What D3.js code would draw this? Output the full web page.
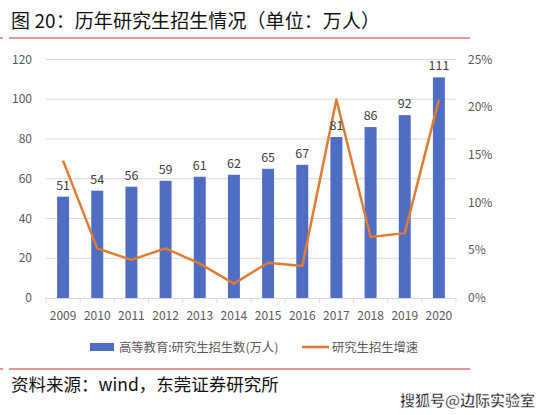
<!DOCTYPE html>
<html>
<head>
<meta charset="utf-8">
<script src="https://cdn.jsdelivr.net/npm/d3@7"></script>
<style>
  body { margin: 0; background: #fff; }
  svg { display: block; font-family: "Noto Sans CJK SC", "Noto Sans", sans-serif; }
</style>
</head>
<body>
<svg id="chart" width="554" height="415"></svg>
<script>
// data
const years = ['2009','2010','2011','2012','2013','2014','2015','2016','2017','2018','2019','2020'];
const enrolment = [51, 54, 56, 59, 61, 62, 65, 67, 81, 86, 92, 111];          // 万人
const growth = [14.4, 5.2, 4.0, 5.2, 3.6, 1.5, 3.7, 3.35, 20.8, 6.4, 6.8, 20.8]; // %
const leftTicks = [0, 20, 40, 60, 80, 100, 120];
const rightTicks = [0, 5, 10, 15, 20, 25];
const barName = '高等教育:研究生招生数(万人)';
const lineName = '研究生招生增速';

const svg = d3.select('#chart');
const plot = {left: 46, right: 456, top: 59.5, bottom: 298};

// header and footer
svg.append('text').attr('x', 11).attr('y', 28)
    .attr('font-size', 19).attr('fill', '#111')
    .attr('textLength', 369).attr('lengthAdjust', 'spacing')
    .text('图 20：历年研究生招生情况（单位：万人）');
svg.append('line').attr('x1', 9).attr('x2', 470).attr('y1', 38).attr('y2', 38)
    .attr('stroke', '#d87470').attr('stroke-width', 1.5);
svg.append('line').attr('x1', 0).attr('x2', 3).attr('y1', 38).attr('y2', 38)
    .attr('stroke', '#d87470').attr('stroke-width', 1.5);
svg.append('line').attr('x1', 9).attr('x2', 470).attr('y1', 369).attr('y2', 369)
    .attr('stroke', '#d87470').attr('stroke-width', 1.5);
svg.append('line').attr('x1', 0).attr('x2', 3).attr('y1', 369).attr('y2', 369)
    .attr('stroke', '#d87470').attr('stroke-width', 1.5);
svg.append('text').attr('x', 11).attr('y', 391)
    .attr('font-size', 17.5).attr('fill', '#111')
    .text('资料来源：wind，东莞证券研究所');
svg.append('text').attr('x', 400).attr('y', 406)
    .attr('font-size', 15).attr('fill', '#222')
    .attr('stroke', '#fff').attr('stroke-width', 0.5).attr('font-weight', 'bold')
    .text('搜狐号@边际实验室');

// scales
const x = d3.scaleBand().domain(years).range([plot.left, plot.right]).paddingInner(0.65).paddingOuter(0.325);
const xb = d3.scaleBand().domain(years).range([plot.left, plot.right]);
const yL = d3.scaleLinear().domain([0, 120]).range([plot.bottom, plot.top]);
const yR = d3.scaleLinear().domain([0, 25]).range([plot.bottom, plot.top]);

// grid
svg.append('g').selectAll('line').data(leftTicks.slice(1)).join('line')
    .attr('x1', plot.left).attr('x2', plot.right)
    .attr('y1', d => yL(d)).attr('y2', d => yL(d))
    .attr('stroke', '#d9d9d9').attr('stroke-width', 1);

// left axis labels
svg.append('g').selectAll('text').data(leftTicks).join('text')
    .attr('x', 32).attr('y', d => yL(d) + 4)
    .attr('text-anchor', 'end').attr('font-size', 12).attr('fill', '#595959')
    .text(d => d);

// right axis labels
svg.append('g').selectAll('text').data(rightTicks).join('text')
    .attr('x', 468).attr('y', d => yR(d) + 4)
    .attr('font-size', 12).attr('fill', '#595959')
    .text(d => d + '%');

// bars
svg.append('g').selectAll('rect').data(years).join('rect')
    .attr('x', d => x(d)).attr('width', x.bandwidth())
    .attr('y', (d, i) => yL(enrolment[i]))
    .attr('height', (d, i) => yL(0) - yL(enrolment[i]))
    .attr('fill', '#4f6dc2');

// x axis
svg.append('line').attr('x1', plot.left).attr('x2', plot.right)
    .attr('y1', plot.bottom + 0.5).attr('y2', plot.bottom + 0.5)
    .attr('stroke', '#d9d9d9');
svg.append('g').selectAll('line').data(years.concat(['end'])).join('line')
    .attr('x1', (d, i) => plot.left + i * xb.step()).attr('x2', (d, i) => plot.left + i * xb.step())
    .attr('y1', plot.bottom).attr('y2', plot.bottom + 5)
    .attr('stroke', '#d9d9d9');
svg.append('g').selectAll('text').data(years).join('text')
    .attr('x', d => xb(d) + xb.bandwidth() / 2).attr('y', 320)
    .attr('text-anchor', 'middle').attr('font-size', 12).attr('fill', '#595959')
    .text(d => d);

// growth line
const line = d3.line()
    .x((d, i) => xb(years[i]) + xb.bandwidth() / 2)
    .y(d => yR(d));
svg.append('path').datum(growth)
    .attr('d', line).attr('fill', 'none')
    .attr('stroke', '#e07b32').attr('stroke-width', 2.5).attr('stroke-linejoin', 'round');

// bar value labels
svg.append('g').selectAll('text').data(years).join('text')
    .attr('x', d => xb(d) + xb.bandwidth() / 2)
    .attr('y', (d, i) => yL(enrolment[i]) - 7)
    .attr('text-anchor', 'middle').attr('font-size', 12.5).attr('fill', '#404040')
    .text((d, i) => enrolment[i]);

// legend
svg.append('rect').attr('x', 90).attr('y', 343).attr('width', 24).attr('height', 8).attr('fill', '#4f6dc2');
svg.append('text').attr('x', 119).attr('y', 352).attr('font-size', 12.3).attr('fill', '#595959').text(barName);
svg.append('line').attr('x1', 302).attr('x2', 329).attr('y1', 347).attr('y2', 347)
    .attr('stroke', '#e07b32').attr('stroke-width', 2.5);
svg.append('text').attr('x', 332).attr('y', 352).attr('font-size', 12.3).attr('fill', '#595959').text(lineName);
</script>
</body>
</html>
